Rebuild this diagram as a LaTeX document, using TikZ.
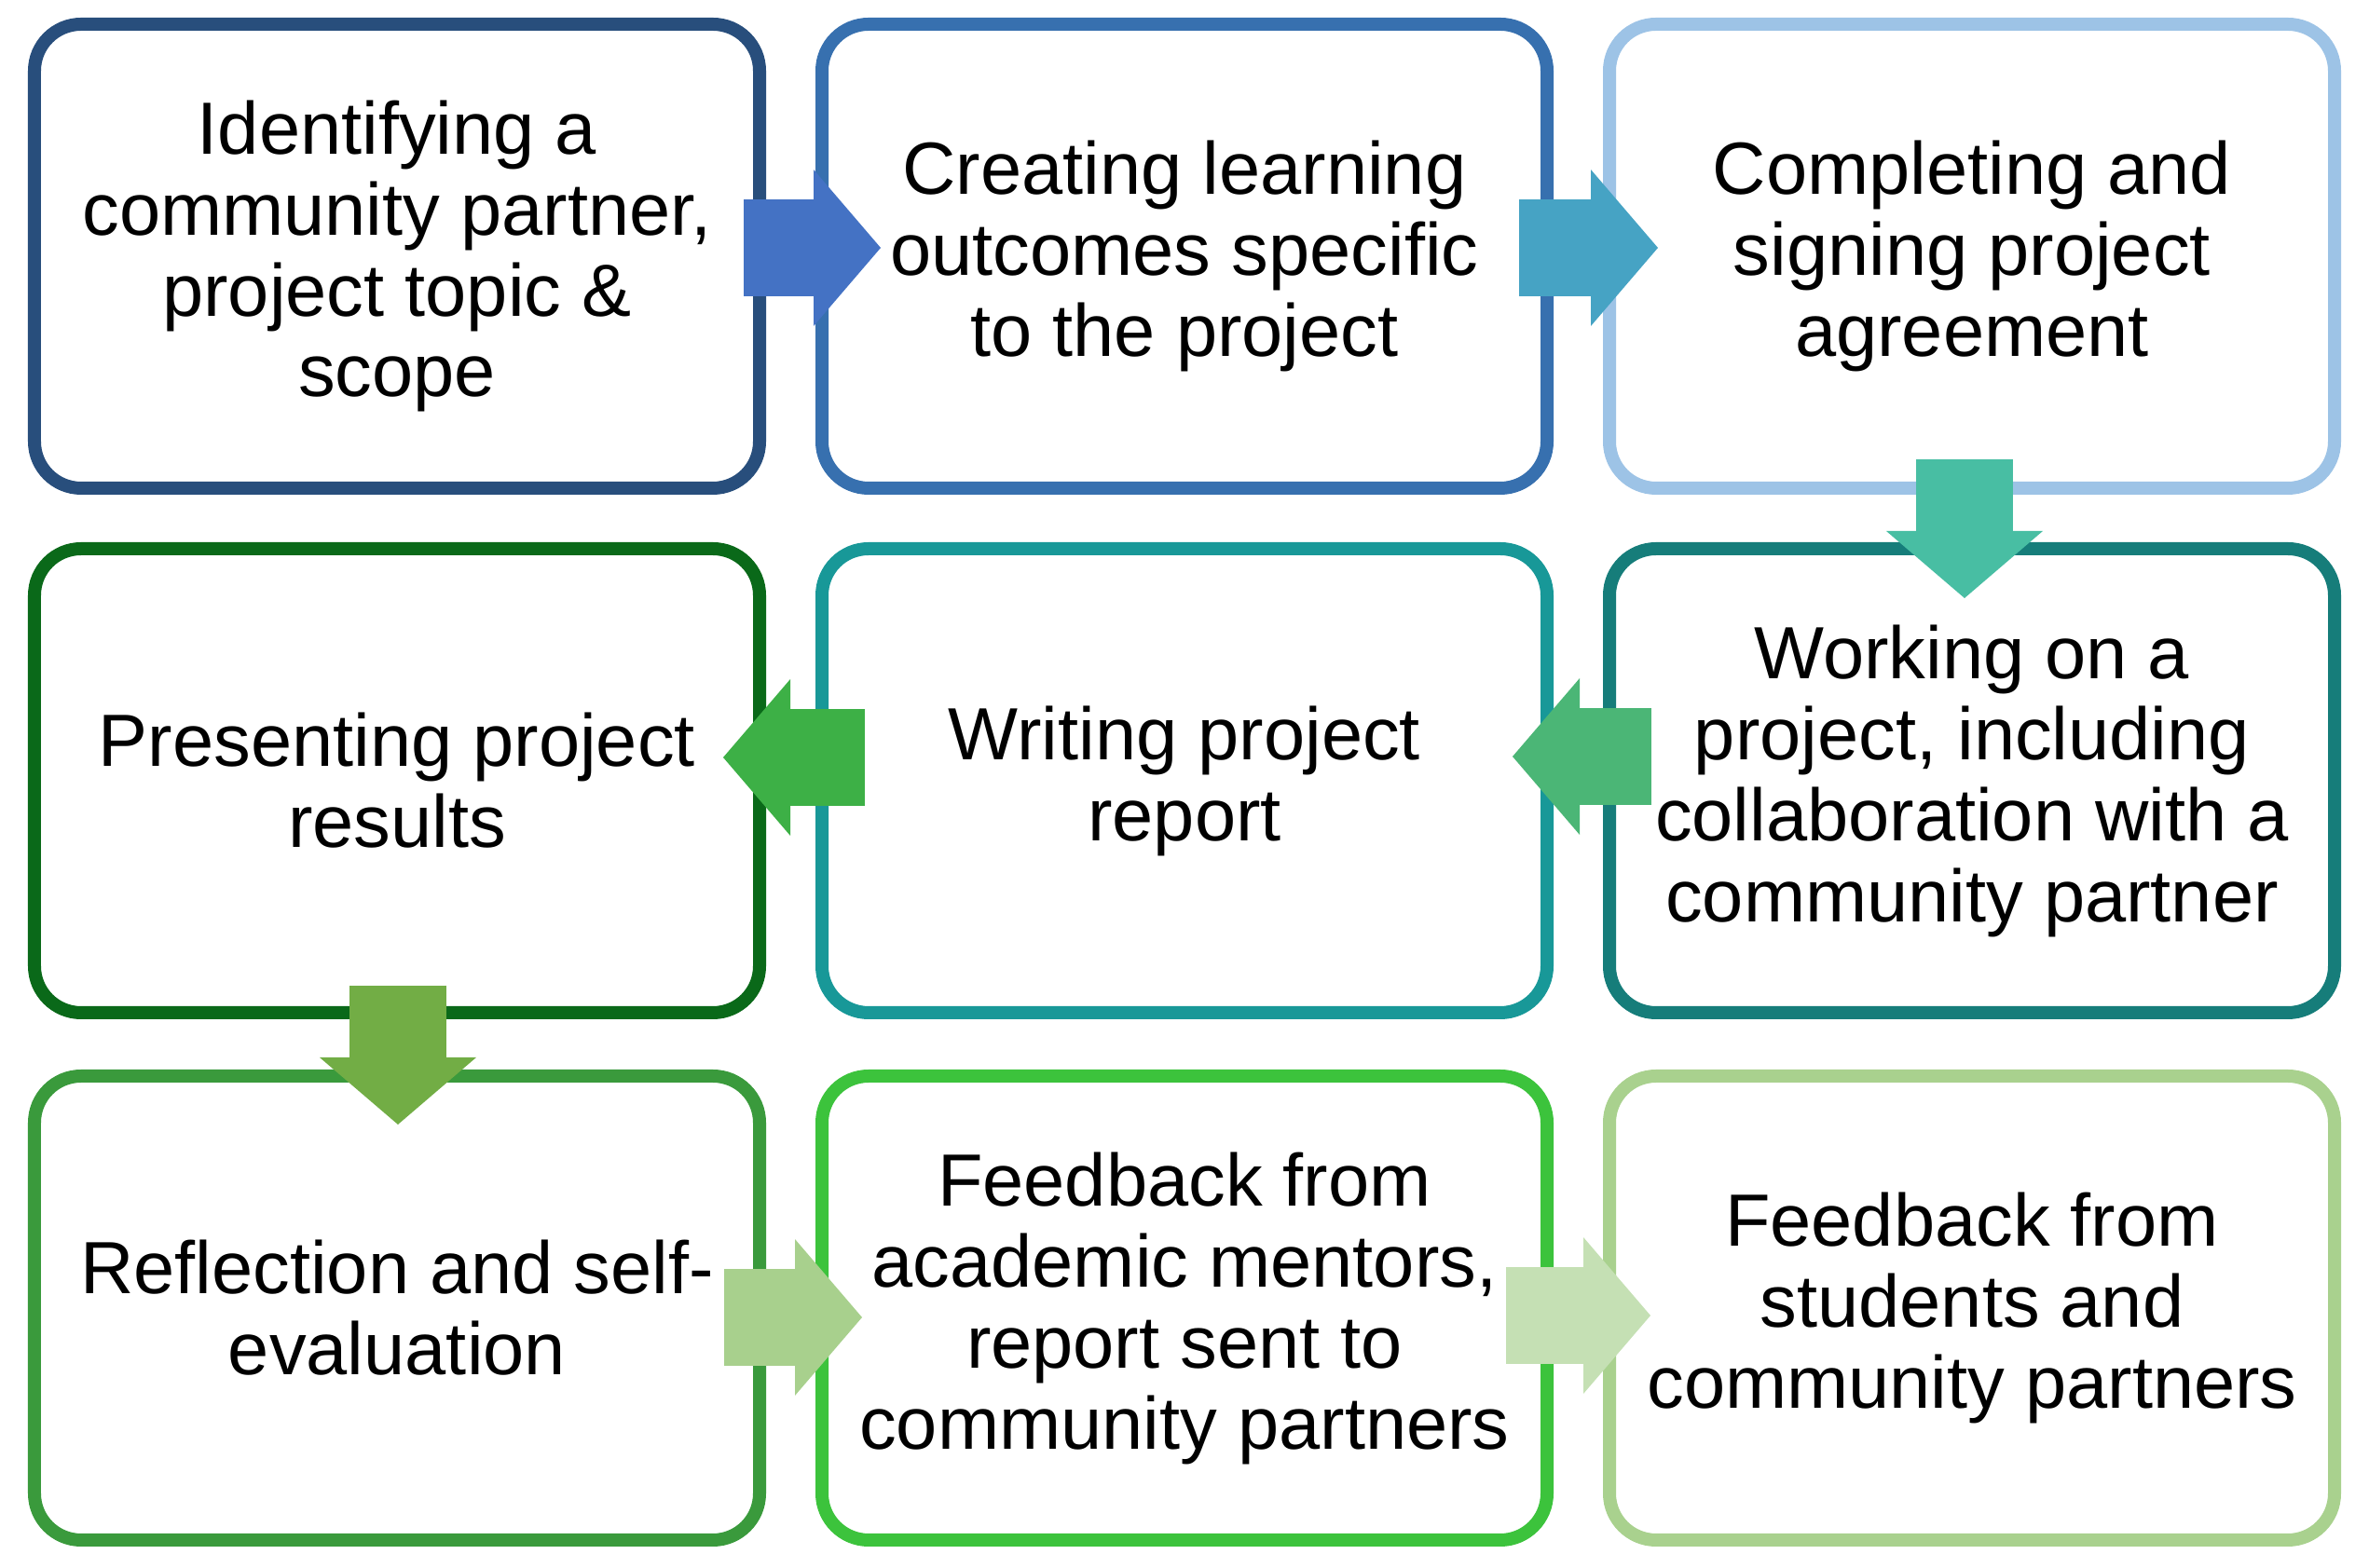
\documentclass[tikz,border=0pt]{standalone}
\usepackage{fontspec}
\setmainfont{Liberation Sans}
\usetikzlibrary{arrows.meta}
\definecolor{lineA}{RGB}{40,78,124}
\definecolor{lineB}{RGB}{55,112,175}
\definecolor{lineC}{RGB}{157,195,230}
\definecolor{lineD}{RGB}{22,125,122}
\definecolor{lineE}{RGB}{24,152,152}
\definecolor{lineF}{RGB}{10,105,25}
\definecolor{lineG}{RGB}{58,154,60}
\definecolor{lineH}{RGB}{60,195,60}
\definecolor{lineI}{RGB}{169,209,142}
\definecolor{fillA}{RGB}{68,114,196}
\definecolor{fillB}{RGB}{70,163,196}
\definecolor{fillC}{RGB}{72,190,163}
\definecolor{fillD}{RGB}{75,182,118}
\definecolor{fillE}{RGB}{61,176,70}
\definecolor{fillF}{RGB}{114,173,69}
\definecolor{fillG}{RGB}{168,208,141}
\definecolor{fillH}{RGB}{197,224,180}

\begin{document}
\begin{tikzpicture}[
  box/.style={draw=#1, fill=white, rounded corners=0.5cm, line width=0.14cm,
    minimum width=7.78cm, minimum height=4.98cm, inner sep=0pt, outer sep=0pt,
    align=center, font=\fontsize{22.6}{24.75}\selectfont},
  flow/.style={draw=#1, line width=1.04cm,
    -{Triangle[length=0.72cm, width=1.68cm, line width=0pt]}}
]
\useasboundingbox (0,0) rectangle (25.42,16.83);
\node[box=lineA] (partner) at (4.26,14.08) {Identifying a\\community partner,\\project topic \&\\scope};
\node[box=lineB] (outcomes) at (12.71,14.08) {Creating learning\\outcomes specific\\to the project};
\node[box=lineC] (agreement) at (21.16,14.08) {Completing and\\signing project\\agreement};
\node[box=lineD] (working) at (21.16,8.45) {Working on a\\project, including\\collaboration with a\\community partner};
\node[box=lineE] (report) at (12.71,8.45) {Writing project\\report};
\node[box=lineF] (present) at (4.26,8.45) {Presenting project\\results};
\node[box=lineG] (reflect) at (4.26,2.79) {Reflection and self-\\evaluation};
\node[box=lineH] (mentors) at (12.71,2.79) {Feedback from\\academic mentors,\\report sent to\\community partners};
\node[box=lineI] (feedback) at (21.16,2.79) {Feedback from\\students and\\community partners};
\draw[flow=fillA] ([shift={(-0.17,0.09)}]partner.east) -- ([shift={(0.63,0.09)}]outcomes.west);
\draw[flow=fillB] ([shift={(-0.30,0.09)}]outcomes.east) -- ([shift={(0.52,0.09)}]agreement.west);
\draw[flow=fillC] ([shift={(-0.08,0.31)}]agreement.south) -- ([shift={(-0.08,-0.53)}]working.north);
\draw[flow=fillD] ([shift={(0.45,0.26)}]working.west) -- ([shift={(-0.37,0.26)}]report.east);
\draw[flow=fillE] ([shift={(0.46,0.25)}]report.west) -- ([shift={(-0.39,0.25)}]present.east);
\draw[flow=fillF] ([shift={(0.01,0.29)}]present.south) -- ([shift={(0.01,-0.52)}]reflect.north);
\draw[flow=fillG] ([shift={(-0.38,-0.10)}]reflect.east) -- ([shift={(0.43,-0.10)}]mentors.west);
\draw[flow=fillH] ([shift={(-0.44,-0.08)}]mentors.east) -- ([shift={(0.44,-0.08)}]feedback.west);
\end{tikzpicture}
\end{document}
